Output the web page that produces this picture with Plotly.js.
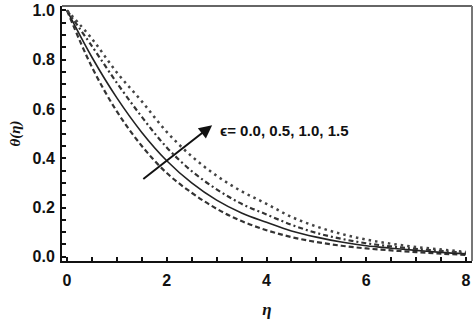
<!DOCTYPE html>
<html>
<head>
<meta charset="utf-8">
<script src="https://cdn.plot.ly/plotly-3.0.1.min.js"></script>
<style>html,body{margin:0;padding:0;background:#fff;}#chart{width:474px;height:323px;}</style>
</head>
<body>
<div id="chart"></div>
<script>
// eta grid
var eta = [0, 0.5, 1, 1.5, 2, 2.5, 3, 3.5, 4, 4.5, 5, 5.5, 6, 6.5, 7, 7.5, 8];
// theta(eta) for epsilon = 0.0, 0.5, 1.0, 1.5
var theta_eps00 = [1, 0.77, 0.59, 0.45, 0.34, 0.26, 0.195, 0.145, 0.108, 0.08, 0.06, 0.045, 0.034, 0.026, 0.019, 0.013, 0.008];
var theta_eps05 = [1, 0.81, 0.645, 0.505, 0.39, 0.30, 0.23, 0.178, 0.14, 0.105, 0.08, 0.06, 0.045, 0.035, 0.026, 0.018, 0.012];
var theta_eps10 = [1, 0.855, 0.706, 0.568, 0.444, 0.348, 0.274, 0.215, 0.172, 0.13, 0.097, 0.073, 0.055, 0.042, 0.032, 0.024, 0.016];
var theta_eps15 = [1, 0.885, 0.748, 0.631, 0.507, 0.408, 0.329, 0.266, 0.215, 0.162, 0.123, 0.093, 0.07, 0.053, 0.04, 0.03, 0.02];
var xTicks = [0, 2, 4, 6, 8];
var yTicks = [0.0, 0.2, 0.4, 0.6, 0.8, 1.0];
var labelText = "ϵ= 0.0, 0.5, 1.0, 1.5";

function tr(y, dash, color, width) {
  return {x: eta, y: y, type: 'scatter', mode: 'lines',
    line: {shape: 'spline', dash: dash, color: color, width: width}, hoverinfo: 'skip'};
}

var data = [
  tr(theta_eps00, '5px,3px', '#333', 2.2),
  tr(theta_eps05, 'solid', '#222', 1.6),
  tr(theta_eps10, '5px,3px,2px,3px', '#333', 2.2),
  tr(theta_eps15, '2.5px,4px', '#444', 2.5)
];

var tickFont = {family: 'Liberation Sans, Arial, sans-serif', size: 16, color: '#111', weight: 'bold'};

var layout = {
  width: 474, height: 323,
  margin: {l: 62, r: 2, t: 6, b: 62},
  paper_bgcolor: '#fff', plot_bgcolor: '#fff',
  showlegend: false,
  xaxis: {
    range: [-0.1, 8.12], tickvals: xTicks, ticktext: xTicks.map(String),
    ticks: 'inside', ticklen: 4, tickwidth: 2, tickcolor: '#111',
    minor: {dtick: 0.5, tick0: 0, ticks: 'inside', ticklen: 4, tickwidth: 2, tickcolor: '#111'},
    showline: true, linecolor: '#111', linewidth: 2, mirror: false,
    showgrid: false, zeroline: false, tickfont: tickFont, ticklabelstandoff: 4,
    title: {text: 'η', font: {family: 'Liberation Serif, Times New Roman, serif', size: 17, color: '#111', style: 'italic', weight: 'bold'}, standoff: 15}
  },
  yaxis: {
    range: [-0.017, 1.018], tickvals: yTicks, ticktext: yTicks.map(function(v){return v.toFixed(1);}),
    ticks: 'inside', ticklen: 4, tickwidth: 2, tickcolor: '#111',
    minor: {dtick: 0.05, tick0: 0, ticks: 'inside', ticklen: 4, tickwidth: 2, tickcolor: '#111'},
    showline: true, linecolor: '#111', linewidth: 2, mirror: false,
    showgrid: false, zeroline: false, tickfont: tickFont, ticklabelstandoff: 2,
    title: {text: 'θ(η)', font: {family: 'Liberation Serif, Times New Roman, serif', size: 15, color: '#111', style: 'italic', weight: 'bold'}, standoff: 8}
  },
  shapes: [
    {type: 'line', xref: 'paper', yref: 'paper', x0: 0, x1: 1, y0: 1, y1: 1, line: {color: '#666', width: 2}},
    {type: 'line', xref: 'paper', yref: 'paper', x0: 1, x1: 1, y0: 0, y1: 1, line: {color: '#777', width: 2}}
  ],
  annotations: [
    {x: 2.91, y: 0.534, ax: 1.5, ay: 0.311, xref: 'x', yref: 'y', axref: 'x', ayref: 'y',
     showarrow: true, arrowhead: 2, arrowsize: 1.3, arrowwidth: 2, arrowcolor: '#111', text: ''},
    {x: 3.03, y: 0.514, xref: 'x', yref: 'y', xanchor: 'left', yanchor: 'middle', showarrow: false,
     text: labelText, font: {family: 'Liberation Sans, Arial, sans-serif', size: 15, color: '#111', weight: 'bold'}}
  ]
};

Plotly.newPlot('chart', data, layout, {staticPlot: true, displayModeBar: false});
</script>
</body>
</html>
